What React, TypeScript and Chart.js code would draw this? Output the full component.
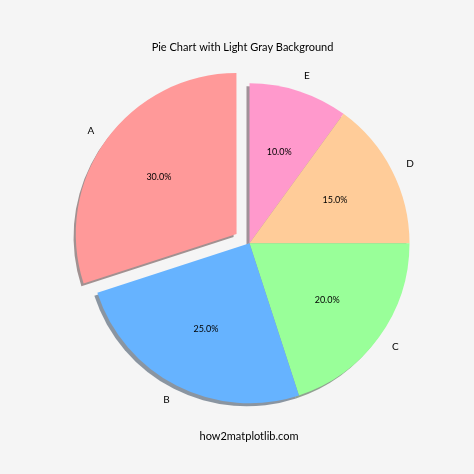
import React, { useRef, useEffect } from "react";
import { Chart, ChartConfiguration, Plugin, registerables } from "chart.js";

Chart.register(...registerables);

// matplotlib draws counter-clockwise from 12 o'clock; Chart.js goes clockwise,
// so the slices are listed in reverse (E..A) to land in the same places
const categories = ["E", "D", "C", "B", "A"];
const shares = [10, 15, 20, 25, 30];
const colors = ["#ff99cc", "#ffcc99", "#99ff99", "#66b3ff", "#ff9999"];
const explode = [0, 0, 0, 0, 0.1];

const titleText = "Pie Chart with Light Gray Background";
const footerText = "how2matplotlib.com";

const BG = "#f5f5f5";
const RADIUS = 160;
const FONT = "Lato, 'Noto Sans', sans-serif";

const hexToRgb = (hex: string) => {
  const n = parseInt(hex.slice(1), 16);
  return [(n >> 16) & 255, (n >> 8) & 255, n & 255];
};

const piePlugin: Plugin<"pie"> = {
  id: "pieExtras",
  beforeDraw(chart) {
    const { ctx, width, height } = chart;
    ctx.save();
    ctx.fillStyle = BG;
    ctx.fillRect(0, 0, width, height);
    ctx.restore();
  },
  beforeDatasetsDraw(chart) {
    // shadow like matplotlib's shadow=True: darker copy shifted left/down
    const { ctx } = chart;
    const meta = chart.getDatasetMeta(0);
    ctx.save();
    meta.data.forEach((el: any, i) => {
      const { x, y, startAngle, endAngle, outerRadius } = el.getProps(
        ["x", "y", "startAngle", "endAngle", "outerRadius"],
        true
      );
      const mid = (startAngle + endAngle) / 2;
      const off = explode[i] * RADIUS;
      const cx = x + Math.cos(mid) * off - 3;
      const cy = y + Math.sin(mid) * off + 3;
      const [r, g, b] = hexToRgb(colors[i]);
      ctx.fillStyle = `rgba(${r * 0.3},${g * 0.3},${b * 0.3},0.5)`;
      ctx.beginPath();
      ctx.moveTo(cx, cy);
      ctx.arc(cx, cy, outerRadius, startAngle, endAngle);
      ctx.closePath();
      ctx.fill();
    });
    ctx.restore();
  },
  afterDatasetsDraw(chart) {
    const { ctx } = chart;
    const meta = chart.getDatasetMeta(0);
    const total = shares.reduce((a, b) => a + b, 0);
    ctx.save();
    ctx.fillStyle = "#000";
    ctx.textBaseline = "middle";
    meta.data.forEach((el: any, i) => {
      const { x, y, startAngle, endAngle, outerRadius } = el.getProps(
        ["x", "y", "startAngle", "endAngle", "outerRadius"],
        true
      );
      const mid = (startAngle + endAngle) / 2;
      const off = explode[i] * RADIUS;
      const cx = x + Math.cos(mid) * off;
      const cy = y + Math.sin(mid) * off;
      const c = Math.cos(mid);
      const s = Math.sin(mid);

      ctx.font = `9px ${FONT}`;
      ctx.textAlign = "center";
      const pct = ((shares[i] / total) * 100).toFixed(1) + "%";
      ctx.fillText(pct, cx + c * outerRadius * 0.6, cy + s * outerRadius * 0.6);

      ctx.font = `10px ${FONT}`;
      ctx.textAlign = c > 0 ? "left" : "right";
      ctx.fillText(categories[i], cx + c * outerRadius * 1.1, cy + s * outerRadius * 1.1);
    });

    ctx.textAlign = "center";
    ctx.font = `11px ${FONT}`;
    ctx.fillText(titleText, 242.5, 47.5);
    ctx.fillText(footerText, 249, 436);
    ctx.restore();
  },
};

const PieChart: React.FC = () => {
  const chartRef = useRef<HTMLCanvasElement | null>(null);
  const chartInstanceRef = useRef<Chart | null>(null);

  useEffect(() => {
    if (chartRef.current) {
      const ctx = chartRef.current.getContext("2d");
      if (ctx) {
        if (chartInstanceRef.current) {
          chartInstanceRef.current.destroy();
        }
        const chartConfig: ChartConfiguration<"pie"> = {
          type: "pie",
          data: {
            labels: categories,
            datasets: [
              {
                data: shares,
                backgroundColor: colors,
                borderWidth: 0,
                // Chart.js moves an arc by offset / 4
                offset: explode.map((e) => e * RADIUS * 4),
                hoverOffset: 0,
              },
            ],
          },
          options: {
            responsive: false,
            animation: false,
            radius: RADIUS,
            layout: {
              padding: { left: 49.5, right: 24.5, top: 43.3, bottom: 30.7 },
            },
            plugins: {
              legend: { display: false },
              tooltip: { enabled: false },
              title: { display: false },
            },
          },
          plugins: [piePlugin],
        };
        chartInstanceRef.current = new Chart(ctx, chartConfig);
      }
    }
    return () => {
      if (chartInstanceRef.current) {
        chartInstanceRef.current.destroy();
        chartInstanceRef.current = null;
      }
    };
  }, []);

  return (
    <div style={{ position: "fixed", left: 0, top: 0, width: 474, height: 474, background: BG }}>
      <canvas ref={chartRef} width={474} height={474}></canvas>
    </div>
  );
};

export default function App() {
  return <PieChart />;
}
